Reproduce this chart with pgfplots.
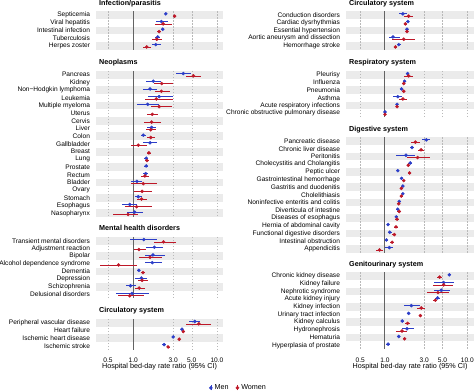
\documentclass[border=0pt]{standalone}
\usepackage{fontspec}
\setmainfont{Liberation Sans}
\usepackage{pgfplots}
\usepackage{pgfplotstable}
\pgfplotsset{compat=1.18}
\definecolor{menblue}{RGB}{44,62,200}
\definecolor{womenred}{RGB}{190,24,40}
\definecolor{band}{RGB}{235,235,235}
\definecolor{gridc}{RGB}{185,185,185}
\definecolor{refl}{RGB}{100,100,100}
\newcommand\lab{\fontsize{6.6}{7.5}\selectfont}

% ---------------- data: r est lo hi ----------------
\pgfplotstableread{
r est lo hi
1 2.45 2.38 2.52
2 2.17 1.86 2.57
3 2.25 2.15 2.36
4 1.96 1.84 2.10
5 1.86 1.66 2.15
}\infM
\pgfplotstableread{
r est lo hi
1 3.12 3.02 3.22
2 2.28 1.82 2.90
3 2.04 1.95 2.14
4 1.91 1.69 2.19
5 1.45 1.31 1.62
}\infW
\pgfplotstableread{
r est lo hi
1 3.97 3.24 4.90
2 1.74 1.41 2.13
3 1.59 1.32 1.95
4 2.04 1.52 2.95
5 1.49 1.10 2.04
8 1.66 1.47 1.89
9 1.32 1.24 1.41
10 1.59 1.32 1.95
12 1.43 1.36 1.50
13 1.43 1.35 1.52
14 1.41 1.30 1.52
15 1.11 0.95 1.28
17 1.15 1.06 1.28
18 0.91 0.74 1.12
19 1.04 0.85 1.31
}\neoM
\pgfplotstableread{
r est lo hi
1 5.24 4.27 6.47
2 2.19 1.77 3.00
3 2.17 1.82 2.74
4 1.89 1.38 3.00
5 2.04 1.62 2.90
6 1.69 1.47 2.00
7 1.66 1.34 2.13
8 1.62 1.43 1.89
9 1.62 1.47 1.81
10 1.15 0.93 1.47
11 1.54 1.45 1.62
12 1.46 1.38 1.54
14 1.38 1.23 1.56
15 1.32 0.95 1.91
16 1.28 1.02 1.66
17 1.26 1.10 1.47
18 1.10 0.79 1.66
19 0.87 0.57 1.15
}\neoW
\pgfplotstableread{
r est lo hi
1 1.34 0.91 1.95
2 1.79 1.41 2.24
3 1.72 1.38 2.41
4 1.69 1.38 2.19
5 1.17 1.12 1.22
6 1.25 1.05 1.47
7 0.93 0.81 1.09
8 0.97 0.62 1.54
}\menM
\pgfplotstableread{
r est lo hi
1 2.30 1.77 3.24
2 1.17 1.02 1.41
3 1.59 1.17 2.19
4 0.67 0.40 1.12
5 1.31 1.23 1.40
6 1.28 1.15 1.49
7 1.18 1.05 1.38
8 0.91 0.66 1.34
}\menW
\pgfplotstableread{
r est lo hi
1 5.43 4.68 6.29
2 3.82 3.68 3.97
3 3.00 2.93 3.07
4 2.34 2.22 2.46
}\lcM
\pgfplotstableread{
r est lo hi
1 6.07 4.27 8.53
2 3.97 3.80 4.15
3 3.55 3.45 3.65
4 2.61 2.50 2.72
}\lcW
\pgfplotstableread{
r est lo hi
1 1.65 1.47 1.85
2 1.90 1.82 1.98
3 1.85 1.79 1.91
4 1.25 1.11 1.51
5 1.47 1.38 1.58
}\rcM
\pgfplotstableread{
r est lo hi
1 1.94 1.69 2.19
2 1.77 1.70 1.85
3 1.85 1.79 1.91
4 1.69 1.22 2.33
5 1.34 1.27 1.41
}\rcW
\pgfplotstableread{
r est lo hi
1 1.88 1.78 1.98
2 1.73 1.66 1.80
3 1.59 1.52 1.66
4 1.43 1.26 1.60
5 1.40 1.35 1.45
6 1.00 0.97 1.03
}\resM
\pgfplotstableread{
r est lo hi
1 1.94 1.72 2.19
2 1.69 1.62 1.76
3 1.69 1.62 1.76
4 1.65 1.47 1.85
5 1.40 1.35 1.45
6 1.00 0.97 1.03
}\resW
\pgfplotstableread{
r est lo hi
1 3.18 2.85 3.55
2 2.13 2.03 2.24
3 1.80 1.37 2.33
4 2.03 1.93 2.13
5 1.43 1.38 1.48
6 1.59 1.53 1.65
7 1.65 1.58 1.72
8 1.65 1.59 1.71
9 1.49 1.43 1.55
10 1.43 1.37 1.49
11 1.37 1.31 1.43
12 1.09 1.05 1.13
13 1.14 1.08 1.20
14 1.04 0.99 1.09
15 1.13 1.01 1.26
}\digM
\pgfplotstableread{
r est lo hi
1 2.34 2.08 2.68
2 2.74 2.55 2.95
3 2.49 1.85 3.48
4 1.92 1.83 2.01
5 1.99 1.90 2.08
6 1.69 1.61 1.77
7 1.58 1.51 1.65
8 1.58 1.51 1.65
9 1.47 1.41 1.53
10 1.49 1.41 1.57
11 1.40 1.33 1.47
12 1.36 1.29 1.43
13 1.30 1.23 1.37
14 1.22 1.15 1.29
15 0.86 0.78 0.95
}\digW
\pgfplotstableread{
r est lo hi
1 6.04 5.75 6.34
2 5.16 3.90 6.82
3 4.83 3.90 6.10
4 4.36 4.00 4.70
5 2.09 1.69 2.69
6 1.94 1.86 2.02
7 1.62 1.55 1.70
8 1.85 1.61 2.23
9 1.47 1.41 1.54
10 1.09 1.04 1.14
}\genM
\pgfplotstableread{
r est lo hi
1 4.61 4.30 4.95
2 5.16 3.80 6.70
3 4.40 3.24 5.94
4 4.09 3.85 4.30
5 2.76 2.45 3.10
6 2.69 2.60 2.78
7 1.88 1.75 2.00
8 1.61 1.35 1.85
9 1.73 1.65 1.82
}\genW

\pgfplotsset{
 every axis/.append style={
   scale only axis, y dir=reverse, ymin=0.5,
   axis line style={draw=none}, major tick style={draw=none}, minor tick style={draw=none},
   xtick={0.5,1,3,5,10}, xticklabels={},
   yminorgrids, minor grid style={line width=7.7pt, color=band},
   yticklabel style={font=\lab, xshift=-2.5pt},
   xticklabel style={font=\lab, yshift=-5pt},
   xlabel style={font=\fontsize{7.2}{8}\selectfont, at={(axis description cs:0.5,0)}, anchor=center, yshift=-17pt},
   title style={at={(0,1)}, anchor=base west, font=\bfseries\fontsize{7.2}{8}\selectfont, inner sep=0pt, xshift=3pt, yshift=0pt},
   clip=false, enlargelimits=false,
 },
}
\newcommand\vlines[1]{%
 \addplot[forget plot, gridc, line width=0.4pt, dash pattern=on 1.5pt off 1.5pt] coordinates {(0.5,0.5) (0.5,#1)};
 \addplot[forget plot, gridc, line width=0.4pt, dash pattern=on 1.5pt off 1.5pt] coordinates {(3,0.5) (3,#1)};
 \addplot[forget plot, gridc, line width=0.4pt, dash pattern=on 1.5pt off 1.5pt] coordinates {(5,0.5) (5,#1)};
 \addplot[forget plot, gridc, line width=0.4pt, dash pattern=on 1.5pt off 1.5pt] coordinates {(10,0.5) (10,#1)};
 \addplot[forget plot, refl, line width=1pt] coordinates {(1,0.5) (1,#1)};
}
\newcommand\plotM[1]{\addplot[only marks, mark=*, mark size=1.55pt, color=menblue,
   error bars/.cd, x dir=both, x explicit, error mark=none, error bar style={line width=0.7pt}]
  table[x=est, y expr=\thisrow{r}-0.15,
  x error plus expr=\thisrow{hi}-\thisrow{est}, x error minus expr=\thisrow{est}-\thisrow{lo}] {#1};}
\newcommand\plotW[1]{\addplot[only marks, mark=*, mark size=1.55pt, color=womenred,
   error bars/.cd, x dir=both, x explicit, error mark=none, error bar style={line width=0.7pt}]
  table[x=est, y expr=\thisrow{r}+0.15,
  x error plus expr=\thisrow{hi}-\thisrow{est}, x error minus expr=\thisrow{est}-\thisrow{lo}] {#1};}

\begin{document}
\begin{tikzpicture}
\path[use as bounding box] (0,0) rectangle (474pt,391pt);
% ---------- left column ----------
\begin{axis}[xmode=log, width=127pt, xmin=0.36, xmax=11.8,
  at={(96pt,379.85pt)}, anchor=north west, height=38.5pt, ymax=5.5,
  ytick={1,...,5}, minor ytick={1,3,5},
  yticklabels={Septicemia,Viral hepatitis,Intestinal infection,Tuberculosis,Herpes zoster},
  title={Infection/parasitis}]
\vlines{5.5}
\plotM{\infM}
\plotW{\infW}
\end{axis}

\begin{axis}[xmode=log, width=127pt, xmin=0.36, xmax=11.8,
  at={(96pt,320.15pt)}, anchor=north west, height=146.3pt, ymax=19.5,
  ytick={1,...,19}, minor ytick={1,3,...,19},
  yticklabels={Pancreas,Kidney,Non−Hodgkin lymphoma,Leukemia,Multiple myeloma,Uterus,Cervis,Liver,Colon,Gallbladder,Breast,Lung,Prostate,Rectum,Bladder,Ovary,Stomach,Esophagus,Nasopharynx},
  title={Neoplasms}]
\vlines{19.5}
\plotM{\neoM}
\plotW{\neoW}
\end{axis}

\begin{axis}[xmode=log, width=127pt, xmin=0.36, xmax=11.8,
  at={(96pt,154.15pt)}, anchor=north west, height=61.6pt, ymax=8.5,
  ytick={1,...,8}, minor ytick={1,3,5,7},
  yticklabels={Transient mental disorders,Adjustment reaction,Bipolar,Alcohol dependence syndrome,Dementia,Depression,Schizophrenia,Delusional disorders},
  title={Mental health disorders}]
\vlines{8.5}
\plotM{\menM}
\plotW{\menW}
\end{axis}

\begin{axis}[xmode=log, width=127pt, xmin=0.36, xmax=11.8,
  at={(96pt,72.15pt)}, anchor=north west, height=30.8pt, ymax=4.5,
  ytick={1,...,4}, minor ytick={1,3},
  yticklabels={Peripheral vascular disease,Heart failure,Ischemic heart disease,Ischemic stroke},
  xticklabels={0.5,1.0,3.0,5.0,10.0},
  xlabel={Hospital bed-day rate ratio (95\% CI)},
  title={Circulatory system},
  legend columns=2,
  legend style={at={(1.122,-1.24)}, anchor=center, draw=none, fill=none,
    font=\fontsize{7.2}{8}\selectfont, inner sep=0pt,
    /tikz/every even column/.append style={column sep=5pt}},
  legend image code/.code={\draw[line width=0.7pt] (0pt,-2.6pt)--(0pt,2.6pt); \fill (0pt,0pt) circle (1.6pt);}]
\vlines{4.5}
\plotM{\lcM}
\plotW{\lcW}
\legend{Men,Women}
\end{axis}

% ---------- right column ----------
\begin{axis}[xmode=log, width=128pt, xmin=0.336, xmax=12.06,
  at={(346pt,379.85pt)}, anchor=north west, height=38.5pt, ymax=5.5,
  ytick={1,...,5}, minor ytick={1,3,5},
  yticklabels={Conduction disorders,Cardiac dysrhythmias,Essential hypertension,Aortic aneurysm and dissection,Hemorrhage stroke},
  title={Circulatory system}]
\vlines{5.5}
\plotM{\rcM}
\plotW{\rcW}
\end{axis}

\begin{axis}[xmode=log, width=128pt, xmin=0.336, xmax=12.06,
  at={(346pt,320.15pt)}, anchor=north west, height=46.2pt, ymax=6.5,
  ytick={1,...,6}, minor ytick={1,3,5},
  yticklabels={Pleurisy,Influenza,Pneumonia,Asthma,Acute respiratory infections,Chronic obstructive pulmonary disease},
  title={Respiratory system}]
\vlines{6.5}
\plotM{\resM}
\plotW{\resW}
\end{axis}

\begin{axis}[xmode=log, width=128pt, xmin=0.336, xmax=12.06,
  at={(346pt,253.85pt)}, anchor=north west, height=115.5pt, ymax=15.5,
  ytick={1,...,15}, minor ytick={1,3,...,15},
  yticklabels={Pancreatic disease,Chronic liver disease,Peritonitis,Cholecystitis and Cholangitis,Peptic ulcer,Gastrointestinal hemorrhage,Gastritis and duodenitis,Cholelithiasis,Noninfective enteritis and colitis,Diverticula of intestine,Diseases of esophagus,Hernia of abdominal cavity,Functional digestive disorders,Intestinal obstruction,Appendicitis},
  title={Digestive system}]
\vlines{15.5}
\plotM{\digM}
\plotW{\digW}
\end{axis}

\begin{axis}[xmode=log, width=128pt, xmin=0.336, xmax=12.06,
  at={(346pt,118.85pt)}, anchor=north west, height=77pt, ymax=10.5,
  ytick={1,...,10}, minor ytick={1,3,5,7,9},
  yticklabels={Chronic kidney disease,Kidney failure,Nephrotic syndrome,Acute kidney injury,Kidney infection,Urinary tract infection,Kidney calculus,Hydronephrosis,Hematuria,Hyperplasia of prostate},
  xticklabels={0.5,1.0,3.0,5.0,10.0},
  xlabel={Hospital bed-day rate ratio (95\% CI)},
  title={Genitourinary system}]
\vlines{10.5}
\plotM{\genM}
\plotW{\genW}
\end{axis}
\end{tikzpicture}
\end{document}
